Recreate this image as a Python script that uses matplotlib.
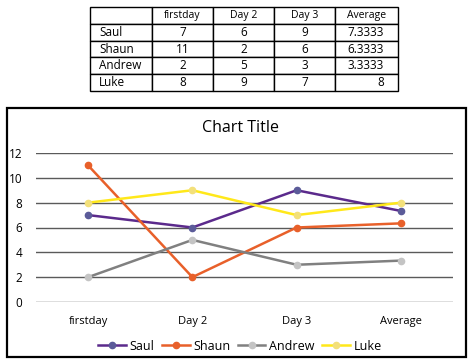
import matplotlib
matplotlib.use("Agg")
import matplotlib.pyplot as plt
from matplotlib.patches import Rectangle

plt.rcParams['font.family'] = ['Open Sans', 'DejaVu Sans']

categories = ["firstday", "Day 2", "Day 3", "Average"]
names = ["Saul", "Shaun", "Andrew", "Luke"]
saul = [7, 6, 9, 7.3333]
shaun = [11, 2, 6, 6.3333]
andrew = [2, 5, 3, 3.3333]
luke = [8, 9, 7, 8]
table_avg = ["7.3333", "6.3333", "3.3333", "8"]
yticks = [0, 2, 4, 6, 8, 10, 12]

line_colors = ["#5b2a8c", "#e8602a", "#808080", "#ffe81a"]
marker_colors = ["#5b5b99", "#e8602a", "#c4c4c4", "#f3e07a"]

W, H = 474, 362
fig = plt.figure(figsize=(W / 100, H / 100), dpi=100)

def fx(x):
    return x / W

def fy(y):
    return 1 - y / H

# ---- table ----
tax = fig.add_axes([fx(90), fy(91), fx(398 - 90), (91 - 7) / H])
tax.axis('off')
series = [saul, shaun, andrew, luke]
cell_text = [[""] + categories]
for n, s, a in zip(names, series, table_avg):
    cell_text.append([n] + [f"{v:g}" for v in s[:3]] + [a])
colw = [62, 61, 61, 61, 63]
tot = sum(colw)
tbl = tax.table(cellText=cell_text, colWidths=[c / tot for c in colw],
                bbox=[0, 0, 1, 1], cellLoc='center')
tbl.auto_set_font_size(False)
for (r, c), cell in tbl.get_celld().items():
    cell.set_linewidth(1.0)
    cell.set_edgecolor('black')
    t = cell.get_text()
    if r == 0:
        t.set_fontsize(7.5)
    else:
        t.set_fontsize(8.5)
    if c == 0:
        cell._loc = 'left'
        t.set_ha('left')
        cell.PAD = 0.15
    elif c == 4 and r > 0:
        cell._loc = 'right'
        t.set_ha('right')
        cell.PAD = 0.22

# ---- chart frame ----
frame = Rectangle((fx(7), fy(357)), fx(466 - 7), (357 - 108) / H,
                  transform=fig.transFigure, fill=False, lw=1.6,
                  edgecolor='black')
fig.patches.append(frame)

fig.text(fx(240), fy(128), "Chart Title", ha='center', va='center', fontsize=11.5)

ax = fig.add_axes([fx(36), fy(302), fx(453 - 36), (302 - 153) / H])
x = list(range(len(categories)))
for s, n, lc, mc in zip(series, names, line_colors, marker_colors):
    ax.plot(x, s, color=lc, lw=1.8, marker='o', ms=4.5,
            markerfacecolor=mc, markeredgecolor=mc, label=n, zorder=3)
ax.set_xlim(-0.5, 3.5)
ax.set_ylim(0, 12)
ax.set_yticks(yticks)
ax.set_yticklabels([str(v) for v in yticks], fontsize=8.5)
ax.set_xticks(x)
ax.set_xticklabels(categories, fontsize=8)
ax.tick_params(length=0)
ax.tick_params(axis='y', pad=10)
ax.tick_params(axis='x', pad=10)
for sp in ax.spines.values():
    sp.set_visible(False)
ax.grid(axis='y', color='#5a5a5a', lw=1.0)
ax.set_axisbelow(True)
ax.patch.set_alpha(0)

handles, labels = ax.get_legend_handles_labels()
fig.legend(handles, labels, loc='center', bbox_to_anchor=(fx(240), fy(346)),
           ncol=4, frameon=False, fontsize=9, handlelength=2.2,
           handletextpad=0.3, columnspacing=0.6)

fig.savefig("out.png", dpi=100)
